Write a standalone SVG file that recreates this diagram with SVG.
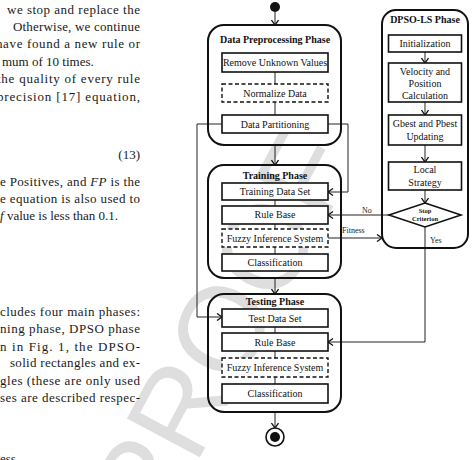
<svg xmlns="http://www.w3.org/2000/svg" width="474" height="460" viewBox="0 0 474 460">
<defs>
<marker id="arr" markerUnits="userSpaceOnUse" markerWidth="8" markerHeight="8" refX="6" refY="4" orient="auto">
<path d="M1,0.5 L6,4 L1,7.5" fill="none" stroke="#111" stroke-width="1.3"/>
</marker>
<style>
.para{font-family:"Liberation Serif","Times New Roman",serif;font-size:13px;fill:#1a1a1a}
.wm{font-family:"Liberation Sans",Arial,sans-serif;font-size:120px;fill:#dedede}
.phase{fill:none;stroke:#111;stroke-width:2}
.box{fill:#fff;stroke:#111;stroke-width:1.6}
.dbox{fill:#fff;stroke:#111;stroke-width:1.4;stroke-dasharray:4 2.5}
.t{font-family:"Liberation Serif","Times New Roman",serif;font-size:10px;fill:#111;text-anchor:middle}
.tb{font-family:"Liberation Serif","Times New Roman",serif;font-size:10px;font-weight:bold;fill:#111;text-anchor:middle}
.ts{font-family:"Liberation Serif","Times New Roman",serif;font-size:6.5px;font-weight:bold;fill:#111;text-anchor:middle}
.lab{font-family:"Liberation Serif","Times New Roman",serif;font-size:8px;fill:#222}
.c{fill:none;stroke:#222;stroke-width:1}
.ca{fill:none;stroke:#222;stroke-width:1;marker-end:url(#arr)}
</style>
</defs>
<rect width="474" height="460" fill="#fff"/>
<g id="watermark">
<text class="wm" transform="translate(358,160) rotate(-62)" text-anchor="end">UNCORRECTED AUTHOR PROOF</text>
</g>
<g id="page-text">
<text class="para" x="7" y="14" textLength="133" lengthAdjust="spacing">we stop and replace the</text>
<text class="para" x="13" y="31" textLength="127" lengthAdjust="spacing">Otherwise, we continue</text>
<text class="para" x="-4" y="48" textLength="144" lengthAdjust="spacing">have found a new rule or</text>
<text class="para" x="2" y="66">mum of 10 times.</text>
<text class="para" x="-3" y="83" textLength="143" lengthAdjust="spacing">the quality of every rule</text>
<text class="para" x="-3" y="101" textLength="143" lengthAdjust="spacing">precision [17] equation,</text>
<text class="para" x="140" y="159" text-anchor="end">(13)</text>
<text class="para" x="0" y="186" textLength="140" lengthAdjust="spacing">e Positives, and <tspan font-style="italic">FP</tspan> is the</text>
<text class="para" x="0" y="203" textLength="140" lengthAdjust="spacing">e equation is also used to</text>
<text class="para" x="0" y="220"><tspan font-style="italic">f</tspan>  value is less than 0.1.</text>
<text class="para" x="0" y="316" textLength="140" lengthAdjust="spacing">cludes four main phases:</text>
<text class="para" x="0" y="333" textLength="140" lengthAdjust="spacing">ning phase, DPSO phase</text>
<text class="para" x="0" y="351" textLength="140" lengthAdjust="spacing">n in Fig. 1, the DPSO-</text>
<text class="para" x="10" y="367" textLength="130" lengthAdjust="spacing">solid rectangles and ex-</text>
<text class="para" x="0" y="385" textLength="140" lengthAdjust="spacing">gles (these are only used</text>
<text class="para" x="0" y="402" textLength="140" lengthAdjust="spacing">ses are described respec-</text>
<text class="para" x="0" y="463">ess</text>
</g>
<g id="connectors">
<line class="ca" x1="275" y1="12" x2="275" y2="25"/>
<line class="c" x1="275" y1="72" x2="275" y2="84"/>
<line class="c" x1="275" y1="102" x2="275" y2="115"/>
<line class="ca" x1="275" y1="145" x2="275" y2="165"/>
<line class="c" x1="275" y1="200" x2="275" y2="206"/>
<line class="c" x1="275" y1="224" x2="275" y2="229"/>
<line class="c" x1="275" y1="247" x2="275" y2="254"/>
<line class="ca" x1="275" y1="278" x2="275" y2="294"/>
<line class="c" x1="275" y1="327" x2="275" y2="333"/>
<line class="c" x1="275" y1="351" x2="275" y2="358"/>
<line class="c" x1="275" y1="377" x2="275" y2="384"/>
<line class="ca" x1="275" y1="412" x2="275" y2="428"/>
<polyline class="ca" points="222,124 197,124 197,317 222,317"/>
<polyline class="ca" points="328,124 348,124 348,192 328,192"/>
<line class="ca" x1="389" y1="215" x2="328" y2="215"/>
<line class="ca" x1="328" y1="238" x2="382" y2="238"/>
<polyline class="ca" points="425,227 425,342 328,342"/>
<line class="ca" x1="425" y1="52" x2="425" y2="63"/>
<line class="ca" x1="425" y1="102" x2="425" y2="115"/>
<line class="ca" x1="425" y1="145" x2="425" y2="162"/>
<line class="ca" x1="425" y1="190" x2="425" y2="203"/>
<text class="lab" x="362" y="213">No</text>
<text class="lab" x="342" y="233">Fitness</text>
<text class="lab" x="430" y="243">Yes</text>
</g>
<g id="start"><circle cx="275" cy="7" r="5" fill="#111"/></g>
<g id="end"><circle cx="275" cy="437" r="9" fill="#fff" stroke="#111" stroke-width="1.6"/><circle cx="275" cy="437" r="5" fill="#111"/></g>
<g id="preprocessing-phase">
<rect class="phase" x="208" y="25" width="133" height="120" rx="16"/>
<text class="tb" x="275" y="43">Data Preprocessing Phase</text>
<g id="remove-unknown"><rect class="box" x="222" y="53" width="106" height="19"/><text class="t" x="275" y="66">Remove Unknown Values</text></g>
<g id="normalize"><rect class="dbox" x="222" y="84" width="106" height="18"/><text class="t" x="275" y="97">Normalize Data</text></g>
<g id="partitioning"><rect class="box" x="222" y="115" width="106" height="18"/><text class="t" x="275" y="128">Data Partitioning</text></g>
</g>
<g id="training-phase">
<rect class="phase" x="208" y="165" width="133" height="113" rx="16"/>
<text class="tb" x="275" y="179">Training Phase</text>
<g id="training-data"><rect class="box" x="222" y="183" width="106" height="17"/><text class="t" x="275" y="195">Training Data Set</text></g>
<g id="training-rules"><rect class="box" x="222" y="206" width="106" height="18"/><text class="t" x="275" y="218">Rule Base</text></g>
<g id="training-fis"><rect class="dbox" x="222" y="229" width="106" height="18"/><text class="t" x="275" y="242">Fuzzy Inference System</text></g>
<g id="training-class"><rect class="box" x="222" y="254" width="106" height="17"/><text class="t" x="275" y="266">Classification</text></g>
</g>
<g id="testing-phase">
<rect class="phase" x="208" y="294" width="133" height="118" rx="16"/>
<text class="tb" x="275" y="305">Testing Phase</text>
<g id="test-data"><rect class="box" x="222" y="309" width="106" height="18"/><text class="t" x="275" y="322">Test Data Set</text></g>
<g id="testing-rules"><rect class="box" x="222" y="333" width="106" height="18"/><text class="t" x="275" y="346">Rule Base</text></g>
<g id="testing-fis"><rect class="dbox" x="222" y="358" width="106" height="19"/><text class="t" x="275" y="371">Fuzzy Inference System</text></g>
<g id="testing-class"><rect class="box" x="222" y="384" width="106" height="19"/><text class="t" x="275" y="397">Classification</text></g>
</g>
<g id="dpso-phase">
<rect class="phase" x="382" y="10" width="86" height="238" rx="14"/>
<text class="tb" x="425" y="23">DPSO-LS Phase</text>
<g id="init"><rect class="box" x="388.5" y="35" width="73" height="17"/><text class="t" x="425" y="47">Initialization</text></g>
<g id="velocity"><rect class="box" x="388.5" y="63" width="73" height="39"/><text class="t" x="425" y="75">Velocity and</text><text class="t" x="425" y="87">Position</text><text class="t" x="425" y="99">Calculation</text></g>
<g id="gbest"><rect class="box" x="388.5" y="115" width="73" height="30"/><text class="t" x="425" y="127">Gbest and Pbest</text><text class="t" x="425" y="140">Updating</text></g>
<g id="local"><rect class="box" x="388.5" y="162" width="73" height="28"/><text class="t" x="425" y="173">Local</text><text class="t" x="425" y="186">Strategy</text></g>
<g id="stop"><polygon points="425,203 461,215 425,227 389,215" fill="#fff" stroke="#111" stroke-width="1.6"/><text class="ts" x="425" y="213">Stop</text><text class="ts" x="425" y="221">Criterion</text></g>
</g>
</svg>
